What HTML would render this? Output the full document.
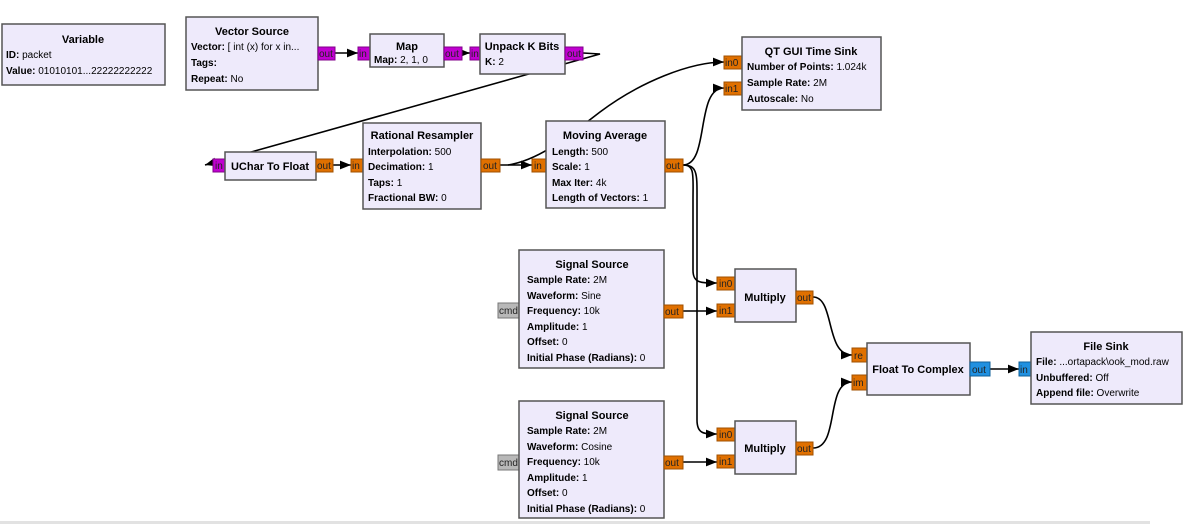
<!DOCTYPE html>
<html><head><meta charset="utf-8"><style>
html,body{margin:0;padding:0;background:#fff;}
svg{display:block;font-family:"Liberation Sans","DejaVu Sans",sans-serif;}
.b{fill:#eeeafb;stroke:#555;stroke-width:1.5}
.t{font-weight:bold;font-size:11px;text-anchor:middle;fill:#000}
.p{font-size:10px;fill:#000}
.p tspan.k{font-weight:bold}
.po{fill:#e07000;stroke:#a05000;stroke-width:1}
.pp{fill:#c000d0;stroke:#80008a;stroke-width:1}
.pb{fill:#2090e0;stroke:#10609a;stroke-width:1}
.pg{fill:#b8b8b8;stroke:#777;stroke-width:1}
.pl{font-size:10px;fill:#222}
.w{fill:none;stroke:#000;stroke-width:1.6}
</style></head><body>
<svg width="1192" height="526" viewBox="0 0 1192 526">
<defs><marker id="a" viewBox="0 0 10 10" refX="10" refY="5" markerWidth="7" markerHeight="7" orient="auto"><path d="M0,1L10,5L0,9z" fill="#000"/></marker></defs>

<!-- wires -->
<path class="w" d="M335,53 H358" marker-end="url(#a)"/>
<path class="w" d="M462,53 H470" marker-end="url(#a)"/>
<path class="w" d="M583,53 L600,54 L205,165" marker-end="url(#a)"/>
<path class="w" d="M333,165 H351" marker-end="url(#a)"/>
<path class="w" d="M500,165 H532" marker-end="url(#a)"/>
<path class="w" d="M508,165 C540,160 570,135 600,112 C640,82 690,62 724,62" marker-end="url(#a)"/>
<path class="w" d="M683,165 C710,165 695,88 724,88" marker-end="url(#a)"/>
<path class="w" d="M683,165 C695,165 693,175 693,200 V270 C693,283 700,283 717,283" marker-end="url(#a)"/>
<path class="w" d="M683,165 C698,165 697,175 697,200 V420 C697,434 704,434 717,434" marker-end="url(#a)"/>
<path class="w" d="M683,311 H717" marker-end="url(#a)"/>
<path class="w" d="M683,462 H717" marker-end="url(#a)"/>
<path class="w" d="M813,297 C835,297 825,355 852,355" marker-end="url(#a)"/>
<path class="w" d="M813,448 C840,448 825,382 852,382" marker-end="url(#a)"/>
<path class="w" d="M990,369 H1019" marker-end="url(#a)"/>

<!-- Variable -->
<rect class="b" x="2" y="24" width="163" height="61"/>
<text class="t" x="83" y="43">Variable</text>
<text class="p" x="6" y="58"><tspan class="k">ID:</tspan> packet</text>
<text class="p" x="6" y="74"><tspan class="k">Value:</tspan> 01010101...22222222222</text>

<!-- Vector Source -->
<rect class="b" x="186" y="17" width="132" height="73"/>
<text class="t" x="252" y="35">Vector Source</text>
<text class="p" x="191" y="50"><tspan class="k">Vector:</tspan> [ int (x) for x in...</text>
<text class="p" x="191" y="66"><tspan class="k">Tags:</tspan></text>
<text class="p" x="191" y="82"><tspan class="k">Repeat:</tspan> No</text>
<rect class="pp" x="318" y="47" width="17" height="13"/><text class="pl" x="319" y="57">out</text>

<!-- Map -->
<rect class="pp" x="358" y="47" width="12" height="13"/><text class="pl" x="359" y="57">in</text>
<rect class="b" x="370" y="34" width="74" height="33"/>
<text class="t" x="407" y="50">Map</text>
<text class="p" x="374" y="63"><tspan class="k">Map:</tspan> 2, 1, 0</text>
<rect class="pp" x="444" y="47" width="18" height="13"/><text class="pl" x="445" y="57">out</text>

<!-- Unpack -->
<rect class="pp" x="470" y="47" width="10" height="13"/><text class="pl" x="471" y="57">in</text>
<rect class="b" x="480" y="34" width="85" height="40"/>
<text class="t" x="522" y="50">Unpack K Bits</text>
<text class="p" x="485" y="65"><tspan class="k">K:</tspan> 2</text>
<rect class="pp" x="565" y="47" width="18" height="13"/><text class="pl" x="567" y="57">out</text>

<!-- UChar To Float -->
<rect class="pp" x="213" y="159" width="12" height="13"/><text class="pl" x="215" y="169">in</text>
<rect class="b" x="225" y="152" width="91" height="28"/>
<text class="t" x="270" y="170">UChar To Float</text>
<rect class="po" x="316" y="159" width="17" height="13"/><text class="pl" x="317" y="169">out</text>

<!-- Rational Resampler -->
<rect class="po" x="351" y="159" width="12" height="13"/><text class="pl" x="352" y="169">in</text>
<rect class="b" x="363" y="123" width="118" height="86"/>
<text class="t" x="422" y="139">Rational Resampler</text>
<text class="p" x="368" y="155"><tspan class="k">Interpolation:</tspan> 500</text>
<text class="p" x="368" y="170"><tspan class="k">Decimation:</tspan> 1</text>
<text class="p" x="368" y="186"><tspan class="k">Taps:</tspan> 1</text>
<text class="p" x="368" y="201"><tspan class="k">Fractional BW:</tspan> 0</text>
<rect class="po" x="481" y="159" width="19" height="13"/><text class="pl" x="483" y="169">out</text>

<!-- Moving Average -->
<rect class="po" x="532" y="159" width="14" height="13"/><text class="pl" x="534" y="169">in</text>
<rect class="b" x="546" y="121" width="119" height="87"/>
<text class="t" x="605" y="139">Moving Average</text>
<text class="p" x="552" y="155"><tspan class="k">Length:</tspan> 500</text>
<text class="p" x="552" y="170"><tspan class="k">Scale:</tspan> 1</text>
<text class="p" x="552" y="186"><tspan class="k">Max Iter:</tspan> 4k</text>
<text class="p" x="552" y="201"><tspan class="k">Length of Vectors:</tspan> 1</text>
<rect class="po" x="665" y="159" width="18" height="13"/><text class="pl" x="666" y="169">out</text>

<!-- QT GUI Time Sink -->
<rect class="po" x="724" y="56" width="18" height="13"/><text class="pl" x="725" y="66">in0</text>
<rect class="po" x="724" y="82" width="18" height="13"/><text class="pl" x="725" y="92">in1</text>
<rect class="b" x="742" y="37" width="139" height="73"/>
<text class="t" x="811" y="55">QT GUI Time Sink</text>
<text class="p" x="747" y="70"><tspan class="k">Number of Points:</tspan> 1.024k</text>
<text class="p" x="747" y="86"><tspan class="k">Sample Rate:</tspan> 2M</text>
<text class="p" x="747" y="102"><tspan class="k">Autoscale:</tspan> No</text>

<!-- Signal Source 1 -->
<rect class="pg" x="498" y="303" width="21" height="15"/><text class="pl" x="499" y="314">cmd</text>
<rect class="b" x="519" y="250" width="145" height="118"/>
<text class="t" x="592" y="268">Signal Source</text>
<text class="p" x="527" y="283"><tspan class="k">Sample Rate:</tspan> 2M</text>
<text class="p" x="527" y="299"><tspan class="k">Waveform:</tspan> Sine</text>
<text class="p" x="527" y="314"><tspan class="k">Frequency:</tspan> 10k</text>
<text class="p" x="527" y="330"><tspan class="k">Amplitude:</tspan> 1</text>
<text class="p" x="527" y="345"><tspan class="k">Offset:</tspan> 0</text>
<text class="p" x="527" y="361"><tspan class="k">Initial Phase (Radians):</tspan> 0</text>
<rect class="po" x="664" y="305" width="19" height="13"/><text class="pl" x="665" y="315">out</text>

<!-- Multiply 1 -->
<rect class="po" x="717" y="277" width="18" height="13"/><text class="pl" x="719" y="287">in0</text>
<rect class="po" x="717" y="304" width="18" height="13"/><text class="pl" x="719" y="314">in1</text>
<rect class="b" x="735" y="269" width="61" height="53"/>
<text class="t" x="765" y="301">Multiply</text>
<rect class="po" x="796" y="291" width="17" height="13"/><text class="pl" x="797" y="301">out</text>

<!-- Signal Source 2 -->
<rect class="pg" x="498" y="455" width="21" height="15"/><text class="pl" x="499" y="466">cmd</text>
<rect class="b" x="519" y="401" width="145" height="117"/>
<text class="t" x="592" y="419">Signal Source</text>
<text class="p" x="527" y="434"><tspan class="k">Sample Rate:</tspan> 2M</text>
<text class="p" x="527" y="450"><tspan class="k">Waveform:</tspan> Cosine</text>
<text class="p" x="527" y="465"><tspan class="k">Frequency:</tspan> 10k</text>
<text class="p" x="527" y="481"><tspan class="k">Amplitude:</tspan> 1</text>
<text class="p" x="527" y="496"><tspan class="k">Offset:</tspan> 0</text>
<text class="p" x="527" y="512"><tspan class="k">Initial Phase (Radians):</tspan> 0</text>
<rect class="po" x="664" y="456" width="19" height="13"/><text class="pl" x="665" y="466">out</text>

<!-- Multiply 2 -->
<rect class="po" x="717" y="428" width="18" height="13"/><text class="pl" x="719" y="438">in0</text>
<rect class="po" x="717" y="455" width="18" height="13"/><text class="pl" x="719" y="465">in1</text>
<rect class="b" x="735" y="421" width="61" height="53"/>
<text class="t" x="765" y="452">Multiply</text>
<rect class="po" x="796" y="442" width="17" height="13"/><text class="pl" x="797" y="452">out</text>

<!-- Float To Complex -->
<rect class="po" x="852" y="348" width="15" height="14"/><text class="pl" x="854" y="359">re</text>
<rect class="po" x="852" y="375" width="15" height="15"/><text class="pl" x="853" y="386">im</text>
<rect class="b" x="867" y="343" width="103" height="52"/>
<text class="t" x="918" y="373">Float To Complex</text>
<rect class="pb" x="970" y="362" width="20" height="14"/><text class="pl" x="972" y="373">out</text>

<!-- File Sink -->
<rect class="pb" x="1019" y="362" width="12" height="14"/><text class="pl" x="1020" y="373">in</text>
<rect class="b" x="1031" y="332" width="151" height="72"/>
<text class="t" x="1106" y="350">File Sink</text>
<text class="p" x="1036" y="365"><tspan class="k">File:</tspan> ...ortapack\ook_mod.raw</text>
<text class="p" x="1036" y="381"><tspan class="k">Unbuffered:</tspan> Off</text>
<text class="p" x="1036" y="396"><tspan class="k">Append file:</tspan> Overwrite</text>

<rect x="0" y="521" width="1150" height="3" fill="#e2e2e2"/>
</svg>
</body></html>
